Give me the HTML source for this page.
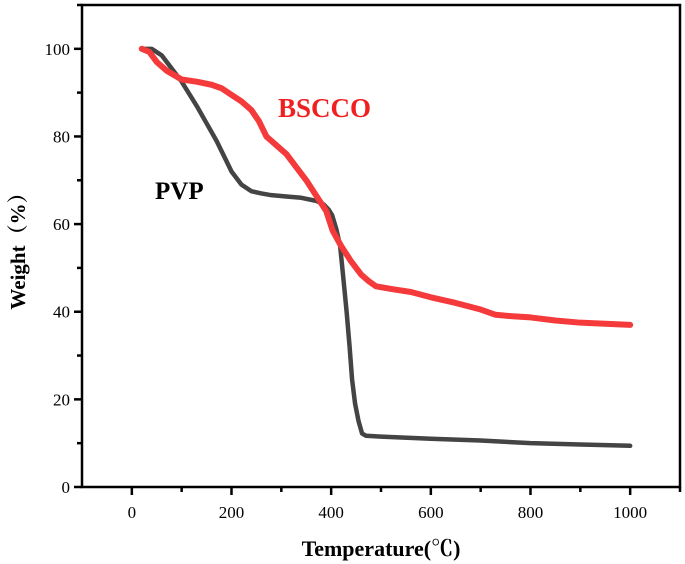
<!DOCTYPE html>
<html><head><meta charset="utf-8"><style>
html,body{margin:0;padding:0;background:#fff;}
svg{display:block;font-family:"Liberation Serif","Noto Serif CJK SC",serif;}
</style></head><body>
<svg id="chart" width="685" height="564" viewBox="0 0 685 564"></svg>
<script>
const xTicks=[0,200,400,600,800,1000];
const yTicks=[0,20,40,60,80,100];
const pvpT=[20,40,60,80,100,130,150,170,185,200,220,240,260,280,310,340,370,385,395,402,410,418,425,431,437,442,448,455,462,470,500,600,700,800,900,1000];
const pvpW=[100,100,98.5,95.5,92.5,87,83,79,75.5,72,69,67.5,67,66.6,66.3,66,65.3,64.5,63.3,62,59,55,47,40,32,24.5,19,15,12.2,11.7,11.5,11,10.6,10,9.7,9.4];
const bsT=[20,35,50,70,100,130,160,180,200,220,240,255,270,290,310,330,350,370,390,403,420,440,460,475,490,520,560,600,650,700,730,760,800,850,900,1000];
const bsW=[100,99.3,97,95,93,92.5,91.8,91,89.5,88,86,83.5,80,78,76,73,70,66.5,63,58.5,55,51.5,48.5,47,45.8,45.2,44.5,43.3,42,40.5,39.3,39,38.7,38,37.5,37];
const NS="http://www.w3.org/2000/svg";
const svg=document.getElementById('chart');
const L=82,R=680,T=5,B=487;
const X=v=>L+(v+100)/1200*(R-L);
const Y=v=>B-v/110*(B-T);
function mk(tag,attrs){const e=document.createElementNS(NS,tag);for(const k in attrs)e.setAttribute(k,attrs[k]);svg.appendChild(e);return e;}
const fr=mk('rect',{x:L,y:T,width:R-L,height:B-T,fill:'none',stroke:'#000','stroke-width':2.5});


for(let v=0;v<=1100;v+=100){
  const major=v%200===0;
  const t=mk('line',{x1:X(v),x2:X(v),y1:B,y2:B+(major?8:5),stroke:'#000','stroke-width':2.5});
  
  
}
xTicks.forEach(v=>{
  const t=mk('text',{x:X(v),y:B+31,'text-anchor':'middle','font-size':17});
  t.textContent=v;
  
  
});
for(let v=0;v<=110;v+=10){
  const major=v%20===0;
  const t=mk('line',{x1:L,x2:L-(major?8:5),y1:Y(v),y2:Y(v),stroke:'#000','stroke-width':2.5});
  
  
}
yTicks.forEach(v=>{
  const t=mk('text',{x:L-12,y:Y(v)+6,'text-anchor':'end','font-size':17});
  t.textContent=v;
  
  
});
function series(ts,ws,color,w,name){
  const p=mk('polyline',{points:ts.map((t,i)=>X(t)+','+Y(ws[i])).join(' '),fill:'none',stroke:color,'stroke-width':w,'stroke-linejoin':'round','stroke-linecap':'round'});
  
  
}
series(pvpT,pvpW,'#444',4.5,'pvp-line');
series(bsT,bsW,'#f43a3a',6,'bscco-line');
const a=mk('text',{x:278,y:117,'font-size':27,'font-weight':'bold',fill:'#f02020'});a.textContent='BSCCO';

const b=mk('text',{x:155,y:199,'font-size':25,'font-weight':'bold',fill:'#000'});b.textContent='PVP';

const xt=mk('text',{x:381,y:556,'text-anchor':'middle','font-size':22,'font-weight':'bold'});xt.textContent='Temperature(℃)';

const yt=mk('text',{x:0,y:0,'text-anchor':'middle','font-size':21,'font-weight':'bold',transform:'translate(25,246) rotate(-90)'});yt.textContent='Weight（%）';

</script>
</body></html>
